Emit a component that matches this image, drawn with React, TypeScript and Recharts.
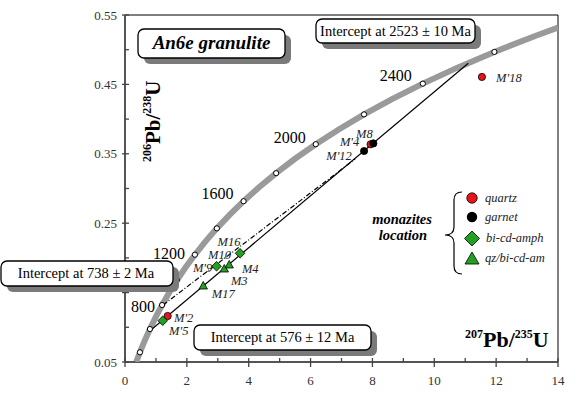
import React from "react";
import { ScatterChart, Scatter, XAxis, YAxis, ReferenceLine } from "recharts";

// concordia curve (207Pb/235U vs 206Pb/238U), 315 Ma .. 2750 Ma
const concordiaX = [0.364, 0.4828, 0.6363, 0.8056, 0.9925, 1.1987, 1.4263, 1.6774, 1.9545, 2.2603, 2.5977, 2.9701, 3.381, 3.8344, 4.3348, 4.8869, 5.4962, 6.1685, 6.9105, 7.7292, 8.6326, 9.6296, 10.7297, 11.9437, 13.2834, 14.0043];
const concordiaY = [0.0501, 0.064, 0.0807, 0.0975, 0.1147, 0.1321, 0.1498, 0.1678, 0.1861, 0.2046, 0.2234, 0.2426, 0.262, 0.2817, 0.3018, 0.3221, 0.3428, 0.3638, 0.3851, 0.4068, 0.4288, 0.4511, 0.4738, 0.4968, 0.5202, 0.532];

// age ticks on the concordia, every 200 Ma
const ageMarkX = [0.4828, 0.8056, 1.1987, 1.6774, 2.2603, 2.9701, 3.8344, 4.8869, 6.1685, 7.7292, 9.6296, 11.9437];
const ageMarkY = [0.064, 0.0975, 0.1321, 0.1678, 0.2046, 0.2426, 0.2817, 0.3221, 0.3638, 0.4068, 0.4511, 0.4968];
const ageLabels = ["", "", "800", "", "1200", "", "1600", "", "2000", "", "2400", ""];

// discordia lines
const discordiaX = [0.77, 11.1];
const discordiaY = [0.0937, 0.4805];
const dashedX = [1.23, 7.44];
const dashedY = [0.1321, 0.3425];

// monazites
const quartzNames = ["M'18", "M'4", "M'2"];
const quartzX = [11.54, 7.94, 1.38];
const quartzY = [0.4607, 0.3637, 0.1163];
const garnetNames = ["M8", "M'12"];
const garnetX = [8.03, 7.73];
const garnetY = [0.365, 0.354];
const amphNames = ["M'5", "M'9", "M16"];
const amphX = [1.22, 2.96, 3.72];
const amphY = [0.1095, 0.188, 0.2066];
const qzNames = ["M17", "M3", "M4"];
const qzX = [2.53, 3.21, 3.37];
const qzY = [0.1595, 0.184, 0.1898];

// label anchors (M10 sits on the M'9 spot)
const labelNames = ["M'18", "M8", "M'4", "M'12", "M'2", "M'5", "M'9", "M10", "M16", "M17", "M3", "M4"];
const labelX = [11.54, 8.03, 7.94, 7.73, 1.38, 1.22, 2.96, 2.96, 3.72, 2.53, 3.21, 3.37];
const labelY = [0.4607, 0.365, 0.3637, 0.354, 0.1163, 0.1095, 0.188, 0.188, 0.2066, 0.1595, 0.184, 0.1898];

const xTicks = [0, 1, 2, 3, 4, 5, 6, 7, 8, 9, 10, 11, 12, 13, 14];
const yTicks = [0.05, 0.1, 0.15, 0.2, 0.25, 0.3, 0.35, 0.4, 0.45, 0.5, 0.55];
const yMajor = [true, false, true, false, true, false, true, false, true, false, true];
// 0.15 is hidden under the intercept box in the original
const yLabels = ["0.05", "", "", "", "0.25", "", "0.35", "", "0.45", "", "0.55"];

const labelOffset: Record<string, [number, number]> = {
  "M'18": [27, 1], M8: [-9, -10], "M'4": [-21, -3], "M'12": [-25, 5],
  "M'2": [16, 2], "M'5": [16, 10], "M'9": [-14, 1], M10: [3, -12],
  M16: [-11, -12], M17: [20, 8], M3: [15, 12], M4: [21, 4],
};
const ageOffset: Record<string, [number, number]> = {
  "800": [-19, 1], "1200": [-26, -1], "1600": [-26, -8], "2000": [-26, -7], "2400": [-27, -8],
};

const SERIF = "Liberation Serif, DejaVu Serif, serif";
const RED = "#e8141c";
const GREEN = "#22a022";

const zip = (xs: number[], ys: number[], names?: string[]) =>
  xs.map((x, i) => ({ x, y: ys[i], name: names ? names[i] : "" }));

const XTick = (props: any) => {
  const { x, y, payload } = props;
  const v = payload.value;
  const major = v % 2 === 0;
  return (
    <g>
      <line x1={x} x2={x} y1={y - 4} y2={major ? y + 5 : y} stroke="#444" strokeWidth={1.3} />
      {major && (
        <text x={x} y={y + 23} textAnchor="middle" style={{ fontFamily: SERIF, fontSize: 13 }} fill="#333">
          {v}
        </text>
      )}
    </g>
  );
};

const YTick = (props: any) => {
  const { x, y, payload } = props;
  const i = yTicks.findIndex((t) => Math.abs(t - payload.value) < 1e-6);
  const lab = yLabels[i];
  return (
    <g>
      <line x1={yMajor[i] ? x - 3 : x} x2={x + 4} y1={y} y2={y} stroke="#444" strokeWidth={1.3} />
      {lab && (
        <text x={x - 8} y={y} dy="0.35em" textAnchor="end" style={{ fontFamily: SERIF, fontSize: 13 }} fill="#333">
          {lab}
        </text>
      )}
    </g>
  );
};

const noDot = () => <g />;

const ageDot = (p: any) => {
  const lab = p.payload.name;
  const off = ageOffset[lab];
  return (
    <g>
      <circle cx={p.cx} cy={p.cy} r={2.6} fill="#fff" stroke="#000" strokeWidth={1} />
      {lab && (
        <text x={p.cx + off[0]} y={p.cy + off[1]} dy="0.35em" textAnchor="middle" style={{ fontFamily: SERIF, fontSize: 16 }} fill="#000">
          {lab}
        </text>
      )}
    </g>
  );
};

const circleDot = (fill: string) => (p: any) => (
  <circle cx={p.cx} cy={p.cy} r={3.6} fill={fill} stroke="#000" strokeWidth={0.8} />
);

const diamondDot = (p: any) => (
  <path d={`M${p.cx} ${p.cy - 4.8}L${p.cx + 4.8} ${p.cy}L${p.cx} ${p.cy + 4.8}L${p.cx - 4.8} ${p.cy}Z`} fill={GREEN} stroke="#000" strokeWidth={0.8} />
);

const triangleDot = (p: any) => (
  <path d={`M${p.cx} ${p.cy - 4.5}L${p.cx + 4.2} ${p.cy + 3}L${p.cx - 4.2} ${p.cy + 3}Z`} fill={GREEN} stroke="#000" strokeWidth={0.8} />
);

const nameLabel = (p: any) => {
  const off = labelOffset[p.payload.name] || [0, 0];
  return (
    <text x={p.cx + off[0]} y={p.cy + off[1]} dy="0.35em" textAnchor="middle" style={{ fontFamily: SERIF, fontSize: 12.5, fontStyle: "italic" }} fill="#222">
      {p.payload.name}
    </text>
  );
};

const Box = ({ x, y, w, h, children }: any) => (
  <g>
    <rect x={x + 6} y={y + 6} width={w} height={h} rx={6} fill="#7a7a7a" />
    <rect x={x} y={y} width={w} height={h} rx={6} fill="#fff" stroke="#000" strokeWidth={1.3} />
    {children}
  </g>
);

const Ratio = ({ a, b, big, small }: any) => (
  <>
    <tspan fontSize={small} dy={-9}>{a}</tspan>
    <tspan fontSize={big} dy={9}>Pb/</tspan>
    <tspan fontSize={small} dy={-9}>{b}</tspan>
    <tspan fontSize={big} dy={9}>U</tspan>
  </>
);

export default function App() {
  return (
    <div style={{ position: "absolute", left: 0, top: 0, width: 577, height: 394, background: "#fff", fontFamily: SERIF }}>
      <ScatterChart width={577} height={394} margin={{ top: 15, right: 19, bottom: 0, left: 0 }}>
        <XAxis
          type="number"
          dataKey="x"
          domain={[0, 14]}
          ticks={xTicks}
          interval={0}
          allowDataOverflow
          height={32}
          tickSize={0}
          tickMargin={0}
          tickLine={false}
          tick={<XTick />}
          axisLine={{ stroke: "#555", strokeWidth: 2 }}
        />
        <YAxis
          type="number"
          dataKey="y"
          domain={[0.05, 0.55]}
          ticks={yTicks}
          interval={0}
          allowDataOverflow
          width={125}
          tickSize={0}
          tickMargin={0}
          tickLine={false}
          tick={<YTick />}
          axisLine={{ stroke: "#555", strokeWidth: 2 }}
        />
        <ReferenceLine y={0.55} stroke="#000" strokeWidth={1} />
        <ReferenceLine x={14} stroke="#000" strokeWidth={1} />
        <Scatter data={zip(concordiaX, concordiaY)} line={{ stroke: "#9a9a9a", strokeWidth: 6 }} shape={noDot} isAnimationActive={false} />
        <Scatter data={zip(discordiaX, discordiaY)} line={{ stroke: "#000", strokeWidth: 1.2 }} shape={noDot} isAnimationActive={false} />
        <Scatter data={zip(dashedX, dashedY)} line={{ stroke: "#000", strokeWidth: 1.2, strokeDasharray: "5 2 1 2" }} shape={noDot} isAnimationActive={false} />
        <Scatter data={zip(ageMarkX, ageMarkY, ageLabels)} shape={ageDot} isAnimationActive={false} />
        <Scatter data={zip(quartzX, quartzY, quartzNames)} shape={circleDot(RED)} isAnimationActive={false} />
        <Scatter data={zip(garnetX, garnetY, garnetNames)} shape={circleDot("#000")} isAnimationActive={false} />
        <Scatter data={zip(amphX, amphY, amphNames)} shape={diamondDot} isAnimationActive={false} />
        <Scatter data={zip(qzX, qzY, qzNames)} shape={triangleDot} isAnimationActive={false} />
        <Scatter data={zip(labelX, labelY, labelNames)} shape={nameLabel} isAnimationActive={false} />
      </ScatterChart>

      <svg width={577} height={394} style={{ position: "absolute", left: 0, top: 0, pointerEvents: "none", fontFamily: SERIF }}>
        <Box x={138} y={29} w={147} h={29}>
          <text x={211.5} y={49} textAnchor="middle" fontSize={19} fontWeight="bold" fontStyle="italic">An6e granulite</text>
        </Box>
        <Box x={316} y={19} w={159} h={24}>
          <text x={395.5} y={35.5} textAnchor="middle" fontSize={14.5}>Intercept at 2523 ± 10 Ma</text>
        </Box>
        <Box x={1} y={261} w={172} h={25}>
          <text x={86} y={277.5} textAnchor="middle" fontSize={14.5}>Intercept at 738 ± 2 Ma</text>
        </Box>
        <Box x={194} y={325} w={177} h={25}>
          <text x={282.5} y={341.5} textAnchor="middle" fontSize={14.5}>Intercept at 576 ± 12 Ma</text>
        </Box>

        {/* legend */}
        <text x={402} y={224} textAnchor="middle" fontSize={14.5} fontWeight="bold" fontStyle="italic">monazites</text>
        <text x={403} y={240} textAnchor="middle" fontSize={14.5} fontWeight="bold" fontStyle="italic">location</text>
        <path d="M462 192 Q454 192 454 200 L454 227 Q454 235 445 235 Q454 235 454 243 L454 266 Q454 274 462 274" fill="none" stroke="#000" strokeWidth={1.2} />
        <circle cx={472} cy={198} r={5.2} fill={RED} stroke="#000" strokeWidth={0.8} />
        <circle cx={472} cy={217} r={5.2} fill="#000" />
        <path d="M472 231 L479.5 238.5 L472 246 L464.5 238.5 Z" fill={GREEN} stroke="#000" strokeWidth={0.8} />
        <path d="M472 252 L479 264 L465 264 Z" fill={GREEN} stroke="#000" strokeWidth={0.8} />
        <g fontSize={12.5} fontStyle="italic" fill="#222">
          <text x={485} y={202}>quartz</text>
          <text x={485} y={221}>garnet</text>
          <text x={486} y={242}>bi-cd-amph</text>
          <text x={485} y={262}>qz/bi-cd-am</text>
        </g>

        {/* axis titles */}
        <text x={465} y={347} fontWeight="bold">
          <Ratio a="207" b="235" big={22} small={12} />
        </text>
        <text transform="translate(160,162) rotate(-90)" fontWeight="bold">
          <Ratio a="206" b="238" big={21} small={12} />
        </text>
      </svg>
    </div>
  );
}
